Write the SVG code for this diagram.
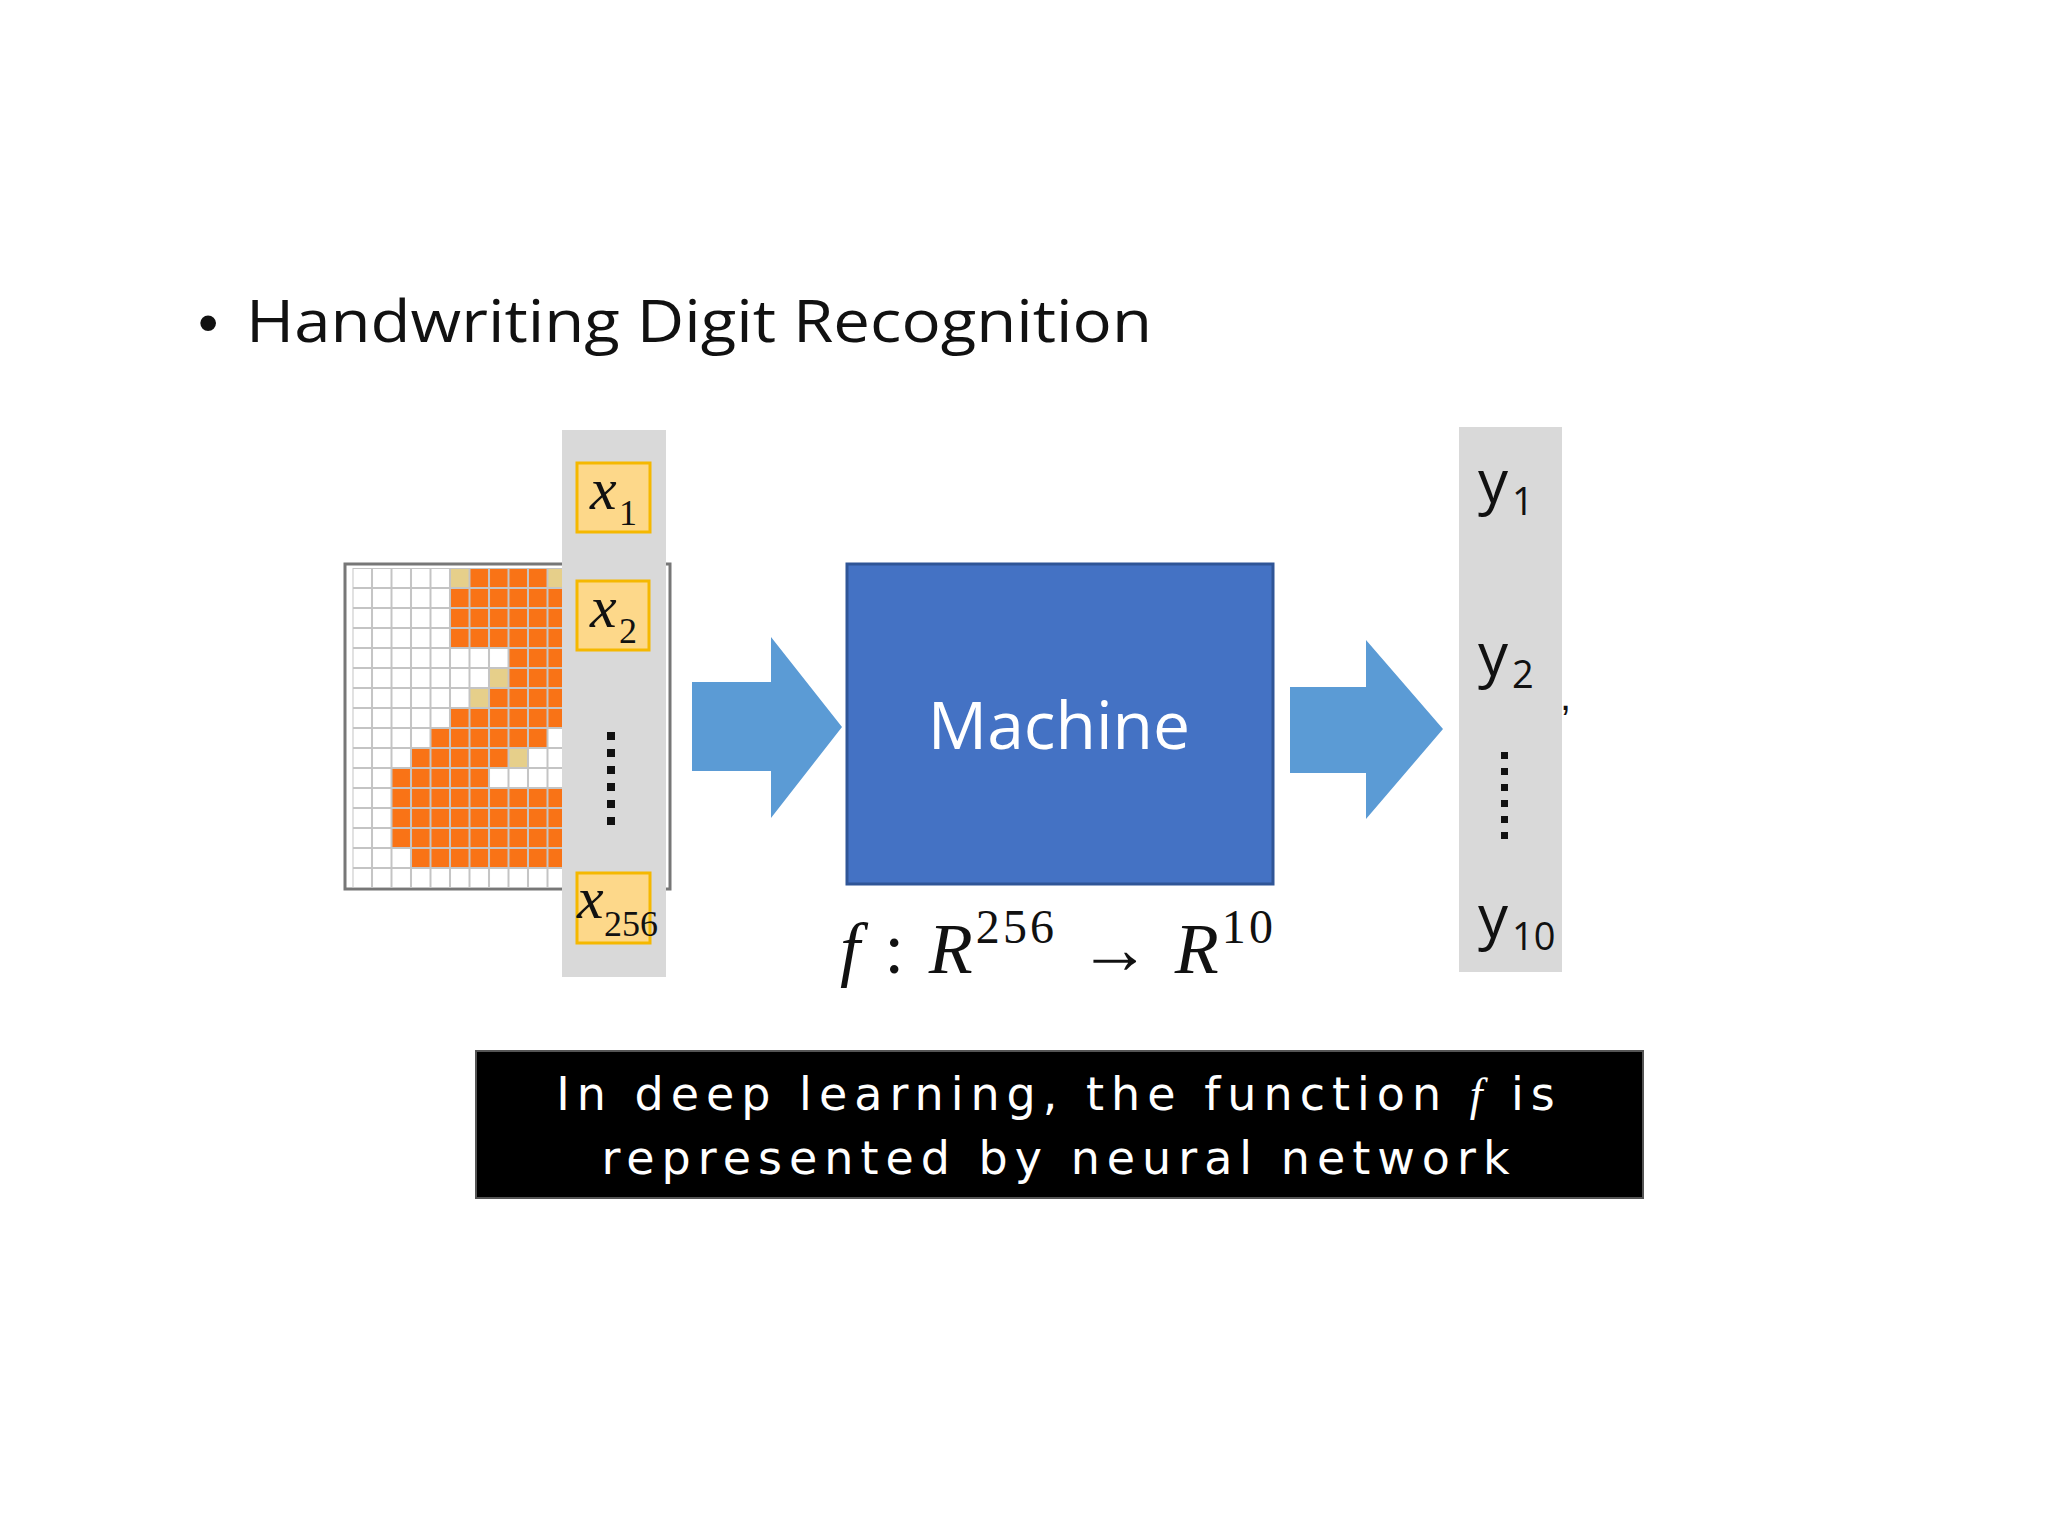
<svg xmlns="http://www.w3.org/2000/svg" width="2048" height="1536" viewBox="0 0 2048 1536">
<style>
.o{fill:#f97316}
.t{fill:#e6cf8a}
.xb{fill:#fdd88a;stroke:#f5b800;stroke-width:3}
.xt{font-family:'Liberation Serif',serif;font-style:italic;font-size:60px;fill:#111}
.xs{font-family:'Liberation Serif',serif;font-size:36px;fill:#111}
.yt{font-family:'Open Sans','Liberation Sans',sans-serif;font-size:60px;fill:#111}
.ys{font-family:'Open Sans','Liberation Sans',sans-serif;font-size:38px;fill:#111}
.arr{fill:#5b9bd5}
.cap{font-family:'DejaVu Sans',sans-serif;font-size:46px;fill:#fff;letter-spacing:7px}
</style>
<defs><pattern id="gp" x="352.5" y="568" width="19.5" height="20" patternUnits="userSpaceOnUse"><rect width="19.5" height="20" fill="none" stroke="#c4c4c4" stroke-width="2"/></pattern></defs>
<rect width="2048" height="1536" fill="#fff"/>
<text x="198" y="342" font-family="'Liberation Sans',sans-serif" font-size="58" fill="#111">•</text>
<text x="246" y="342" font-family="'Open Sans','Liberation Sans',sans-serif" font-size="58" fill="#111" textLength="906" lengthAdjust="spacingAndGlyphs">Handwriting Digit Recognition</text>

<g id="image">
<rect x="345" y="564" width="325" height="325" fill="#fff" stroke="#777" stroke-width="3"/>
<rect class="t" x="450" y="568" width="19.5" height="20"/><rect class="o" x="469.5" y="568" width="78" height="20"/><rect class="t" x="547.5" y="568" width="19.5" height="20"/>
<rect class="o" x="450" y="588" width="117" height="60"/>
<rect class="o" x="508.5" y="648" width="58.5" height="20"/>
<rect class="t" x="489" y="668" width="19.5" height="20"/><rect class="o" x="508.5" y="668" width="58.5" height="20"/>
<rect class="t" x="469.5" y="688" width="19.5" height="20"/><rect class="o" x="489" y="688" width="78" height="20"/>
<rect class="o" x="450" y="708" width="117" height="20"/>
<rect class="o" x="430.5" y="728" width="117" height="20"/>
<rect class="o" x="411" y="748" width="97.5" height="20"/><rect class="t" x="508.5" y="748" width="19.5" height="20"/>
<rect class="o" x="391.5" y="768" width="97.5" height="20"/>
<rect class="o" x="391.5" y="788" width="175.5" height="60"/>
<rect class="o" x="411" y="848" width="156" height="20"/>
<rect x="352.5" y="568" width="312" height="320" fill="url(#gp)"/>
</g>

<g id="x-column">
<rect x="562" y="430" width="104" height="547" fill="#d9d9d9"/>
<rect class="xb" x="577" y="463" width="73" height="69"/>
<text class="xt" x="590" y="509">x</text><text class="xs" x="619" y="525">1</text>
<rect class="xb" x="577" y="581" width="72" height="69"/>
<text class="xt" x="590" y="627">x</text><text class="xs" x="619" y="643">2</text>
<g fill="#111"><rect x="607" y="732" width="8" height="8"/><rect x="607" y="749" width="8" height="8"/><rect x="607" y="766" width="8" height="8"/><rect x="607" y="783" width="8" height="8"/><rect x="607" y="800" width="8" height="8"/><rect x="607" y="817" width="8" height="8"/></g>
<rect class="xb" x="577" y="873" width="73" height="70"/>
<text class="xt" x="577" y="918">x</text><text class="xs" x="604" y="936">256</text>
</g>

<g id="connectors">
<polygon class="arr" points="692,682 771,682 771,637 842,727 771,818 771,771 692,771"/>
<polygon class="arr" points="1290,687 1366,687 1366,640 1443,729 1366,819 1366,773 1290,773"/>
</g>

<g id="machine">
<rect x="847" y="564" width="426" height="320" fill="#4472c4" stroke="#2f5597" stroke-width="3"/>
<text x="1059" y="749" text-anchor="middle" font-family="'Open Sans','Liberation Sans',sans-serif" font-size="66" fill="#fff">Machine</text>
</g>

<text x="840" y="973" font-family="'Liberation Serif',serif" font-size="72" fill="#111" textLength="433"><tspan font-style="italic">f</tspan><tspan> : </tspan><tspan font-style="italic">R</tspan><tspan font-size="48" dy="-30">256</tspan><tspan dy="30">  →  </tspan><tspan font-style="italic">R</tspan><tspan font-size="48" dy="-30">10</tspan></text>

<g id="y-column">
<rect x="1459" y="427" width="103" height="545" fill="#d9d9d9"/>
<text class="yt" x="1478" y="503">y</text><text class="ys" x="1512" y="515">1</text>
<text class="yt" x="1478" y="676">y</text><text class="ys" x="1512" y="688">2</text>
<g fill="#111"><rect x="1501" y="752" width="7" height="7"/><rect x="1501" y="768" width="7" height="7"/><rect x="1501" y="784" width="7" height="7"/><rect x="1501" y="800" width="7" height="7"/><rect x="1501" y="816" width="7" height="7"/><rect x="1501" y="832" width="7" height="7"/></g>
<text class="yt" x="1478" y="938">y</text><text class="ys" x="1512" y="950">10</text>
</g>
<text x="1560" y="710" font-family="'Liberation Sans',sans-serif" font-size="40" fill="#111">,</text>

<g id="caption">
<rect x="476" y="1051" width="1167" height="147" fill="#000" stroke="#555" stroke-width="2"/>
<text class="cap" x="1059" y="1110" text-anchor="middle">In deep learning, the function <tspan font-family="'Liberation Serif',serif" font-style="italic">f</tspan> is</text>
<text class="cap" x="1059" y="1174" text-anchor="middle">represented by neural network</text>
</g>
</svg>
